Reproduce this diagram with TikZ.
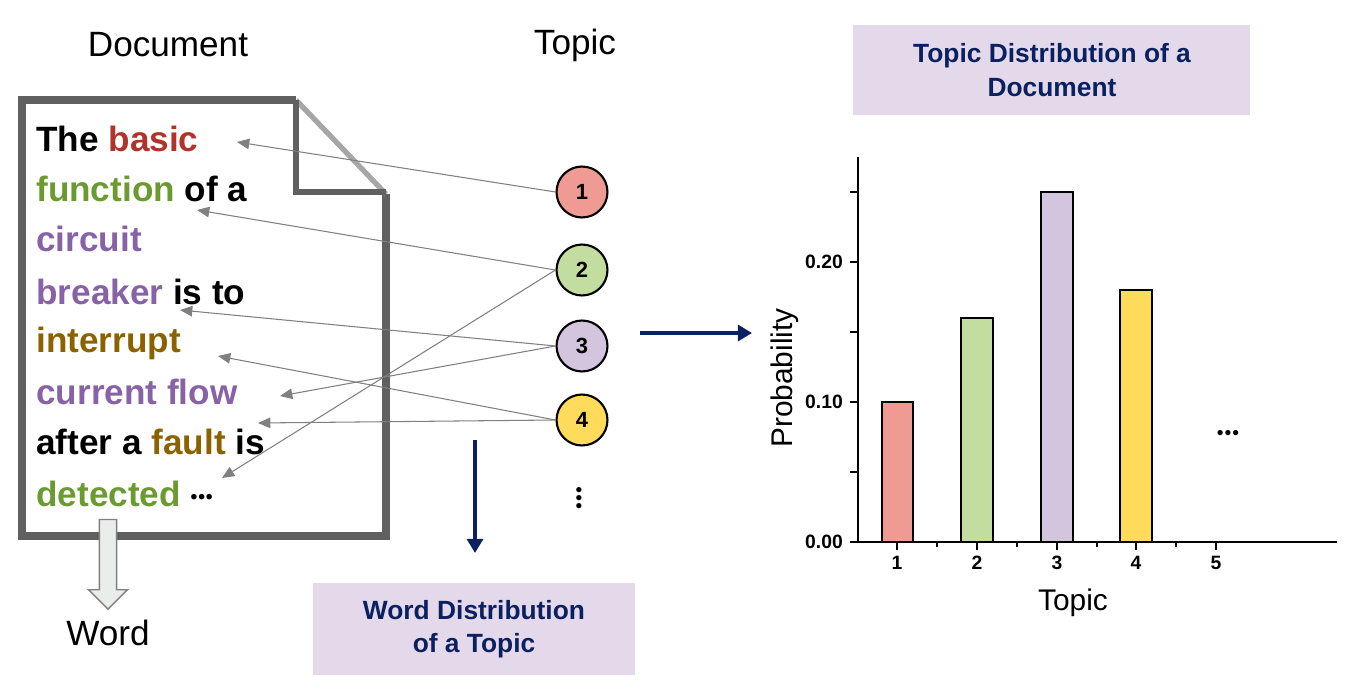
\documentclass[tikz,border=0pt]{standalone}
\usepackage{fontspec}
\setmainfont{Liberation Sans}
\usetikzlibrary{arrows.meta,shapes.arrows}
\definecolor{navy}{HTML}{0B2060}
\definecolor{wred}{HTML}{B0332C}
\definecolor{wgreen}{HTML}{6A9A30}
\definecolor{wpurple}{HTML}{8762A6}
\definecolor{wbrown}{HTML}{8A6200}
\definecolor{tone}{HTML}{EF9A92}
\definecolor{ttwo}{HTML}{C3DCA0}
\definecolor{tthree}{HTML}{D4C5DF}
\definecolor{tfour}{HTML}{FFDB5C}
\definecolor{boxfill}{HTML}{E3D9EA}
\definecolor{docgray}{HTML}{606060}
\newcommand{\tdots}{{\fontsize{11}{11}\selectfont\raisebox{0.2ex}{•\kern0.5pt•\kern0.5pt•}}}
\tikzset{
  docline/.style={anchor=base west, inner sep=0pt, font=\fontsize{20}{24}\selectfont\bfseries},
  topic/.style={circle, draw, line width=1.2pt, minimum size=29pt, inner sep=0pt, font=\fontsize{12.5}{14}\selectfont\bfseries},
  link/.style={draw=gray, line width=0.6pt, -{Triangle[length=7pt,width=6pt]}},
  bigarrow/.style={draw=navy, line width=2.2pt, -{Triangle[length=8pt,width=9pt]}},
  titlebox/.style={align=center, text=navy, font=\fontsize{15}{19}\selectfont\bfseries},
  bar/.style={draw, line width=1pt},
  ticklab/.style={font=\fontsize{11}{13}\selectfont\bfseries}
}
\begin{document}
\begin{tikzpicture}[x=0.02cm, y=-0.02cm]
\useasboundingbox (0,0) rectangle (1358,699);

% headers
\node[font=\fontsize{20}{24}\selectfont] (dochead) at (168,45) {Document};
\node[font=\fontsize{20}{24}\selectfont] (topichead) at (575,45) {Topic};

% document sheet
\draw[docgray, line width=4.5pt, line join=miter] (296,100) -- (22,100) -- (22,536) -- (386,536) -- (386,194);
\draw[gray!70, line width=3pt] (296,100) -- (386,194);
\draw[docgray, line width=3.5pt] (296,100) -- (296,192) -- (386,192);

% word arrow
\node[single arrow, draw=gray, fill=green!10!gray!15, line width=0.8pt, shape border rotate=270,
  minimum width=22pt, single arrow head extend=3pt, single arrow tip angle=90, minimum height=51pt, inner sep=2pt]
  (wordarrow) at (108,560) {};
\node[font=\fontsize{20}{24}\selectfont] (word) at (108,633) {Word};

% text of the document
\node[docline] (l1) at (36,152) {The \textcolor{wred}{basic}};
\node[docline] (l2) at (36,202) {\textcolor{wgreen}{function} of a};
\node[docline] (l3) at (36,252) {\textcolor{wpurple}{circuit}};
\node[docline] (l4) at (36,304) {\textcolor{wpurple}{breaker} is to};
\node[docline] (l5) at (36,352) {\textcolor{wbrown}{interrupt}};
\node[docline] (l6) at (36,404) {\textcolor{wpurple}{current flow}};
\node[docline] (l7) at (36,454) {after a \textcolor{wbrown}{fault} is};
\node[docline] (l8) at (36,506) {\textcolor{wgreen}{detected} \tdots};

% word targets
\coordinate (basic) at (237,142);
\coordinate (function) at (197,210);
\coordinate (breaker) at (180,310);
\coordinate (interrupt) at (218,356);
\coordinate (flow) at (280,396);
\coordinate (fault) at (258,423);
\coordinate (detected) at (222,478);

% topics
\node[topic, fill=tone] (t1) at (582,192) {1};
\node[topic, fill=ttwo] (t2) at (582,270) {2};
\node[topic, fill=tthree] (t3) at (582,346) {3};
\node[topic, fill=tfour] (t4) at (582,420) {4};
\node[rotate=90] (vdots) at (582,498) {\tdots};

% links
\draw[link] (t1.west) -- (basic);
\draw[link] (t2.west) -- (function);
\draw[link] (t2.west) -- (detected);
\draw[link] (t3.west) -- (breaker);
\draw[link] (t3.west) -- (flow);
\draw[link] (t4.west) -- (interrupt);
\draw[link] (t4.west) -- (fault);

% navy arrows
\coordinate (hstart) at (640,333);
\coordinate (hend) at (752,333);
\coordinate (vstart) at (475,440);
\coordinate (vend) at (475,553);
\draw[bigarrow] (hstart) -- (hend);
\draw[bigarrow] (vstart) -- (vend);

% title boxes
\fill[boxfill] (313,583) rectangle (635,675);
\node[titlebox] (wordbox) at (474,629) {Word Distribution\\of a Topic};
\fill[boxfill] (853,25) rectangle (1250,115);
\node[titlebox] (topicbox) at (1052,70) {Topic Distribution of a\\Document};

% chart axes
\draw[line width=1pt] (858,157) -- (858,542) -- (1337,542);
\foreach \y/\lab in {542/0.00,402/0.10,262/0.20}{
  \draw[line width=1pt] (850,\y) -- (858,\y);
  \node[ticklab, anchor=east] at (849,\y) {\lab};
}
\foreach \y in {472,332,192}
  \draw[line width=1pt] (850,\y) -- (858,\y);
\foreach \x/\lab in {897/1,977/2,1057/3,1136/4,1216/5}{
  \draw[line width=1pt] (\x,542) -- (\x,550);
  \node[ticklab] at (\x,563) {\lab};
}
\foreach \x in {937,1017,1097,1176}
  \draw[line width=0.8pt] (\x,542) -- (\x,547);

% bars
\draw[bar, fill=tone] (882,542) rectangle (913,402);
\draw[bar, fill=ttwo] (961,542) rectangle (993,318);
\draw[bar, fill=tthree] (1041,542) rectangle (1073,192);
\draw[bar, fill=tfour] (1120,542) rectangle (1152,290);
\node (cdots) at (1228,436) {\tdots};

% axis labels
\node[font=\fontsize{17}{20}\selectfont, rotate=90] (ylab) at (785,378) {Probability};
\node[font=\fontsize{17}{20}\selectfont] (xlab) at (1073,603) {Topic};
\end{tikzpicture}
\end{document}
